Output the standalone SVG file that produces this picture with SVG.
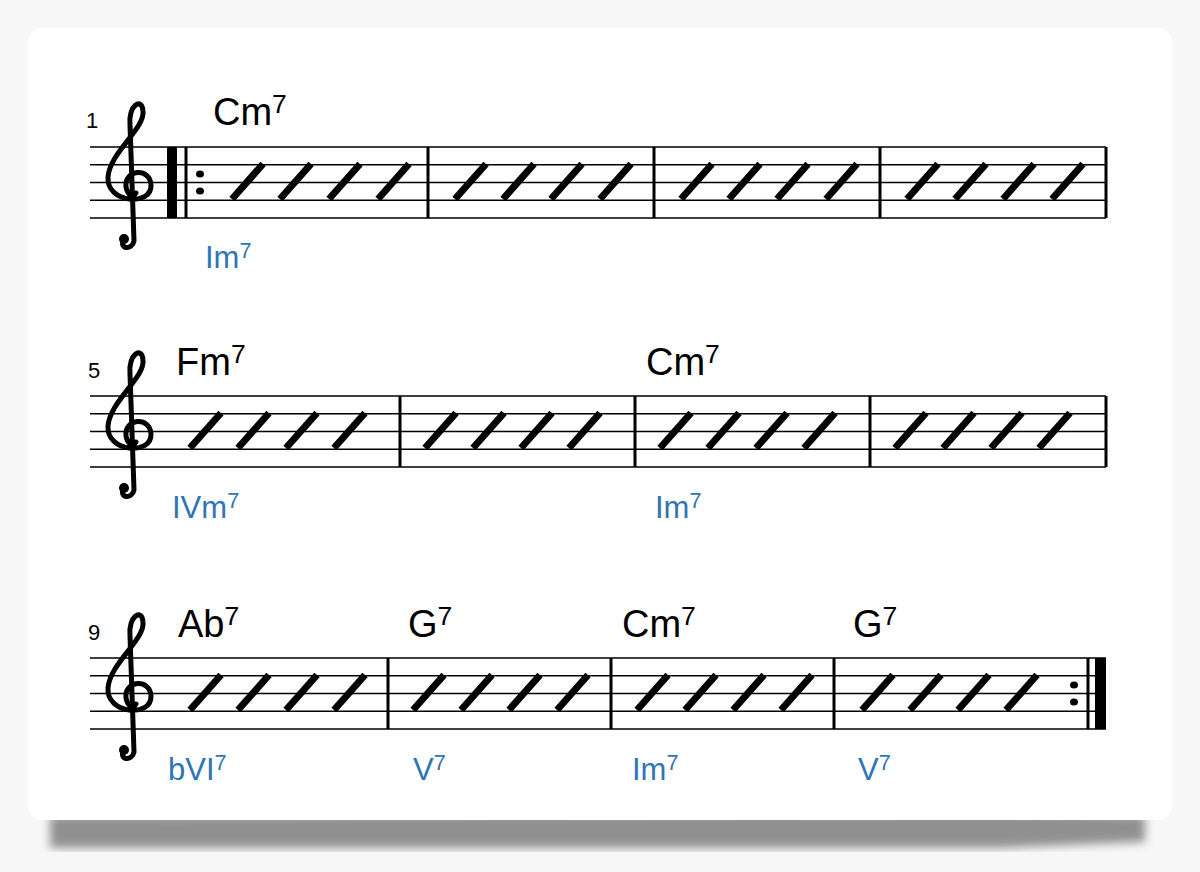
<svg xmlns="http://www.w3.org/2000/svg" width="1200" height="872" viewBox="0 0 1200 872">
<defs>
<style>
.st{stroke:#000;stroke-width:1.6}
.bar{stroke:#000;stroke-width:3}
.sl{stroke:#000;stroke-width:7}
.clef{fill:none;stroke:#000;stroke-width:5;stroke-linecap:round}
.ch{font-family:"Liberation Sans Narrow","Liberation Sans",sans-serif;font-size:38px;fill:#000}
.rn{font-family:"Liberation Sans Narrow","Liberation Sans",sans-serif;font-size:31px;fill:#2e75b6}
.num{font-family:"Liberation Sans Narrow","Liberation Sans",sans-serif;font-size:22px;fill:#000}
.sup{font-size:70%}
</style>
<filter id="blur"><feGaussianBlur stdDeviation="5"/></filter>
<g id="clefshape">
<path class="clef" d="M124 92 C118 102,132 104,134 94 L130 -22 C128 -42,142 -50,143 -36 C145 -18,110 5,108 30 C106 56,152 60,151 38 C150 20,124 22,126 40 C128 50,134 50,136 46"/>
<circle cx="124" cy="92" r="5"/>
</g>
</defs>
<rect width="1200" height="872" fill="#f7f7f7"/>
<path d="M50 815 L1000 812 L1145 815 L1145 842 L1000 848 L50 848 Z" fill="#777" filter="url(#blur)" opacity="0.8"/>
<rect x="28" y="28" width="1144" height="792" rx="14" fill="#fff"/>

<g id="system1">
<g transform="translate(0,147)">
<path class="st" d="M90 0H1106M90 17.75H1106M90 35.5H1106M90 53.25H1106M90 71H1106"/>
<use href="#clefshape"/>
<rect x="167" y="0" width="10" height="71"/>
<line class="bar" x1="186" y1="0" x2="186" y2="71"/>
<ellipse cx="200" cy="27" rx="4" ry="3.5"/><ellipse cx="200" cy="44" rx="4" ry="3.5"/>
<path class="bar" d="M428 0V71M654 0V71M880 0V71M1106 0V71"/>
<g class="sl">
<line x1="232" y1="52" x2="263" y2="17"/><line x1="280" y1="52" x2="311" y2="17"/><line x1="329" y1="52" x2="360" y2="17"/><line x1="378" y1="52" x2="409" y2="17"/>
<line x1="455" y1="52" x2="486" y2="17"/><line x1="503" y1="52" x2="534" y2="17"/><line x1="551" y1="52" x2="582" y2="17"/><line x1="600" y1="52" x2="631" y2="17"/>
<line x1="681" y1="52" x2="712" y2="17"/><line x1="729" y1="52" x2="760" y2="17"/><line x1="777" y1="52" x2="808" y2="17"/><line x1="826" y1="52" x2="857" y2="17"/>
<line x1="907" y1="52" x2="938" y2="17"/><line x1="955" y1="52" x2="986" y2="17"/><line x1="1003" y1="52" x2="1034" y2="17"/><line x1="1052" y1="52" x2="1083" y2="17"/>
</g>
</g>
<text class="num" x="86" y="128">1</text>
<text class="ch" x="213" y="125">Cm<tspan class="sup" dy="-12">7</tspan></text>
<text class="rn" x="205" y="268">Im<tspan class="sup" dy="-10">7</tspan></text>
</g>

<g id="system2">
<g transform="translate(0,396)">
<path class="st" d="M90 0H1106M90 17.75H1106M90 35.5H1106M90 53.25H1106M90 71H1106"/>
<use href="#clefshape"/>
<path class="bar" d="M400 0V71M635 0V71M870 0V71M1106 0V71"/>
<g class="sl">
<line x1="190" y1="52" x2="221" y2="17"/><line x1="238" y1="52" x2="269" y2="17"/><line x1="286" y1="52" x2="317" y2="17"/><line x1="334" y1="52" x2="365" y2="17"/>
<line x1="425" y1="52" x2="456" y2="17"/><line x1="473" y1="52" x2="504" y2="17"/><line x1="521" y1="52" x2="552" y2="17"/><line x1="569" y1="52" x2="600" y2="17"/>
<line x1="660" y1="52" x2="691" y2="17"/><line x1="708" y1="52" x2="739" y2="17"/><line x1="756" y1="52" x2="787" y2="17"/><line x1="804" y1="52" x2="835" y2="17"/>
<line x1="895" y1="52" x2="926" y2="17"/><line x1="943" y1="52" x2="974" y2="17"/><line x1="991" y1="52" x2="1022" y2="17"/><line x1="1039" y1="52" x2="1070" y2="17"/>
</g>
</g>
<text class="num" x="88" y="378">5</text>
<text class="ch" x="176" y="375">Fm<tspan class="sup" dy="-12">7</tspan></text>
<text class="ch" x="646" y="375">Cm<tspan class="sup" dy="-12">7</tspan></text>
<text class="rn" x="172" y="518">IVm<tspan class="sup" dy="-10">7</tspan></text>
<text class="rn" x="655" y="518">Im<tspan class="sup" dy="-10">7</tspan></text>
</g>

<g id="system3">
<g transform="translate(0,658)">
<path class="st" d="M90 0H1106M90 17.75H1106M90 35.5H1106M90 53.25H1106M90 71H1106"/>
<use href="#clefshape"/>
<path class="bar" d="M388 0V71M611 0V71M834 0V71M1088 0V71"/>
<rect x="1095" y="0" width="11" height="71"/>
<ellipse cx="1074" cy="27" rx="4" ry="3.5"/><ellipse cx="1074" cy="44" rx="4" ry="3.5"/>
<g class="sl">
<line x1="190" y1="52" x2="221" y2="17"/><line x1="238" y1="52" x2="269" y2="17"/><line x1="286" y1="52" x2="317" y2="17"/><line x1="334" y1="52" x2="365" y2="17"/>
<line x1="413" y1="52" x2="444" y2="17"/><line x1="461" y1="52" x2="492" y2="17"/><line x1="509" y1="52" x2="540" y2="17"/><line x1="557" y1="52" x2="588" y2="17"/>
<line x1="637" y1="52" x2="668" y2="17"/><line x1="685" y1="52" x2="716" y2="17"/><line x1="733" y1="52" x2="764" y2="17"/><line x1="781" y1="52" x2="812" y2="17"/>
<line x1="862" y1="52" x2="893" y2="17"/><line x1="910" y1="52" x2="941" y2="17"/><line x1="958" y1="52" x2="989" y2="17"/><line x1="1006" y1="52" x2="1037" y2="17"/>
</g>
</g>
<text class="num" x="88" y="640">9</text>
<text class="ch" x="178" y="637">Ab<tspan class="sup" dy="-12">7</tspan></text>
<text class="ch" x="408" y="637">G<tspan class="sup" dy="-12">7</tspan></text>
<text class="ch" x="622" y="637">Cm<tspan class="sup" dy="-12">7</tspan></text>
<text class="ch" x="853" y="637">G<tspan class="sup" dy="-12">7</tspan></text>
<text class="rn" x="168" y="780">bVI<tspan class="sup" dy="-10">7</tspan></text>
<text class="rn" x="413" y="780">V<tspan class="sup" dy="-10">7</tspan></text>
<text class="rn" x="632" y="780">Im<tspan class="sup" dy="-10">7</tspan></text>
<text class="rn" x="858" y="780">V<tspan class="sup" dy="-10">7</tspan></text>
</g>
</svg>
